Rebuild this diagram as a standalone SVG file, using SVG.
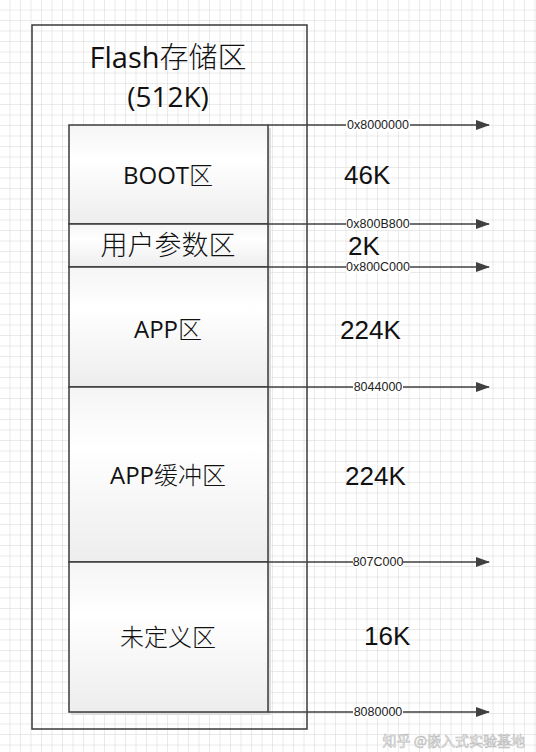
<svg xmlns="http://www.w3.org/2000/svg" width="536" height="752" viewBox="0 0 536 752">
<defs>
<pattern id="grid" x="0" y="0" width="10.5" height="10.5" patternUnits="userSpaceOnUse">
<path d="M10.5 0V10.5H0" fill="none" stroke="#d6d6d6" stroke-width="1"/>
</pattern>
<linearGradient id="blk" x1="0" y1="0" x2="0" y2="1">
<stop offset="0" stop-color="#f5f5f5"/>
<stop offset="0.35" stop-color="#ffffff"/>
<stop offset="1" stop-color="#ededed"/>
</linearGradient>
<marker id="arr" markerWidth="14" markerHeight="12" refX="13" refY="6" orient="auto" markerUnits="userSpaceOnUse">
<path d="M0 1L14 6L0 11z" fill="#404040"/>
</marker>
<style>
.blk{fill:url(#blk);stroke:#3a3a3a;stroke-width:1.5}
.shd{fill:#dedede}
.lbl{font-family:"Open Sans","Noto Sans","Noto Sans CJK SC",sans-serif;fill:#111;text-anchor:middle}
.zh{font-family:"Noto Sans CJK SC","Noto Sans",sans-serif;font-weight:300;fill:#111;text-anchor:middle}
.sz{font-family:"Liberation Sans","Noto Sans",sans-serif;font-size:26px;fill:#111}
.ad{font-family:"Liberation Sans","Noto Sans",sans-serif;font-size:12.5px;fill:#222;text-anchor:middle}
.ln{stroke:#404040;stroke-width:1.6;fill:none;marker-end:url(#arr)}
.bg{fill:#fff}
</style>
</defs>
<rect width="536" height="752" fill="#fff"/>
<rect width="536" height="752" fill="url(#grid)"/>
<g id="outer">
<rect x="32" y="25" width="275" height="704" fill="none" stroke="#3a3a3a" stroke-width="1.5"/>
<text class="lbl" x="168" y="68" font-size="29">Flash<tspan font-family="Noto Sans CJK SC" font-weight="300">存储区</tspan></text>
<text class="lbl" x="168" y="107" font-size="28">(512K)</text>
</g>
<g id="boot">
<rect class="shd" x="71" y="128" width="200" height="99"/>
<rect class="blk" x="69" y="125" width="199" height="99"/>
<text class="lbl" x="168" y="184" font-size="24">BOOT<tspan font-family="Noto Sans CJK SC" font-weight="300">区</tspan></text>
</g>
<g id="param">
<rect class="shd" x="71" y="227" width="200" height="43"/>
<rect class="blk" x="69" y="224" width="199" height="43"/>
<text class="zh" x="168" y="255" font-size="27">用户参数区</text>
</g>
<g id="app">
<rect class="shd" x="71" y="270" width="200" height="120"/>
<rect class="blk" x="69" y="267" width="199" height="120"/>
<text class="lbl" x="168" y="338" font-size="24">APP<tspan font-family="Noto Sans CJK SC" font-weight="300">区</tspan></text>
</g>
<g id="appbuf">
<rect class="shd" x="71" y="390" width="200" height="175"/>
<rect class="blk" x="69" y="387" width="199" height="175"/>
<text class="lbl" x="168" y="484" font-size="24">APP<tspan font-family="Noto Sans CJK SC" font-weight="300">缓冲区</tspan></text>
</g>
<g id="undef">
<rect class="shd" x="71" y="565" width="200" height="150"/>
<rect class="blk" x="69" y="562" width="199" height="150"/>
<text class="zh" x="168" y="646" font-size="24">未定义区</text>
</g>
<g id="sizes">
<text class="sz" x="344" y="184">46K</text>
<text class="sz" x="348" y="255" font-size="25">2K</text>
<text class="sz" x="340" y="339">224K</text>
<text class="sz" x="345" y="485">224K</text>
<text class="sz" x="364" y="645">16K</text>
</g>
<g id="connectors">
<line class="ln" x1="268" y1="125" x2="489" y2="125"/>
<line class="ln" x1="268" y1="224" x2="489" y2="224"/>
<line class="ln" x1="268" y1="267" x2="489" y2="267"/>
<line class="ln" x1="268" y1="387" x2="489" y2="387"/>
<line class="ln" x1="268" y1="562" x2="489" y2="562"/>
<line class="ln" x1="268" y1="712" x2="489" y2="712"/>
<rect class="bg" x="346" y="119" width="64" height="12"/>
<text class="ad" x="378" y="129">0x8000000</text>
<rect class="bg" x="346" y="218" width="64" height="12"/>
<text class="ad" x="378" y="228">0x800B800</text>
<rect class="bg" x="346" y="261" width="64" height="12"/>
<text class="ad" x="378" y="271">0x800C000</text>
<rect class="bg" x="353" y="381" width="50" height="12"/>
<text class="ad" x="378" y="391">8044000</text>
<rect class="bg" x="353" y="556" width="50" height="12"/>
<text class="ad" x="378" y="566">807C000</text>
<rect class="bg" x="353" y="706" width="50" height="12"/>
<text class="ad" x="378" y="716">8080000</text>
</g>
<text x="525" y="746" font-family="Noto Sans CJK SC, sans-serif" font-size="14" fill="#ffffff" stroke="#b8b8b8" stroke-width="0.6" text-anchor="end">知乎 @嵌入式实验基地</text>
</svg>
